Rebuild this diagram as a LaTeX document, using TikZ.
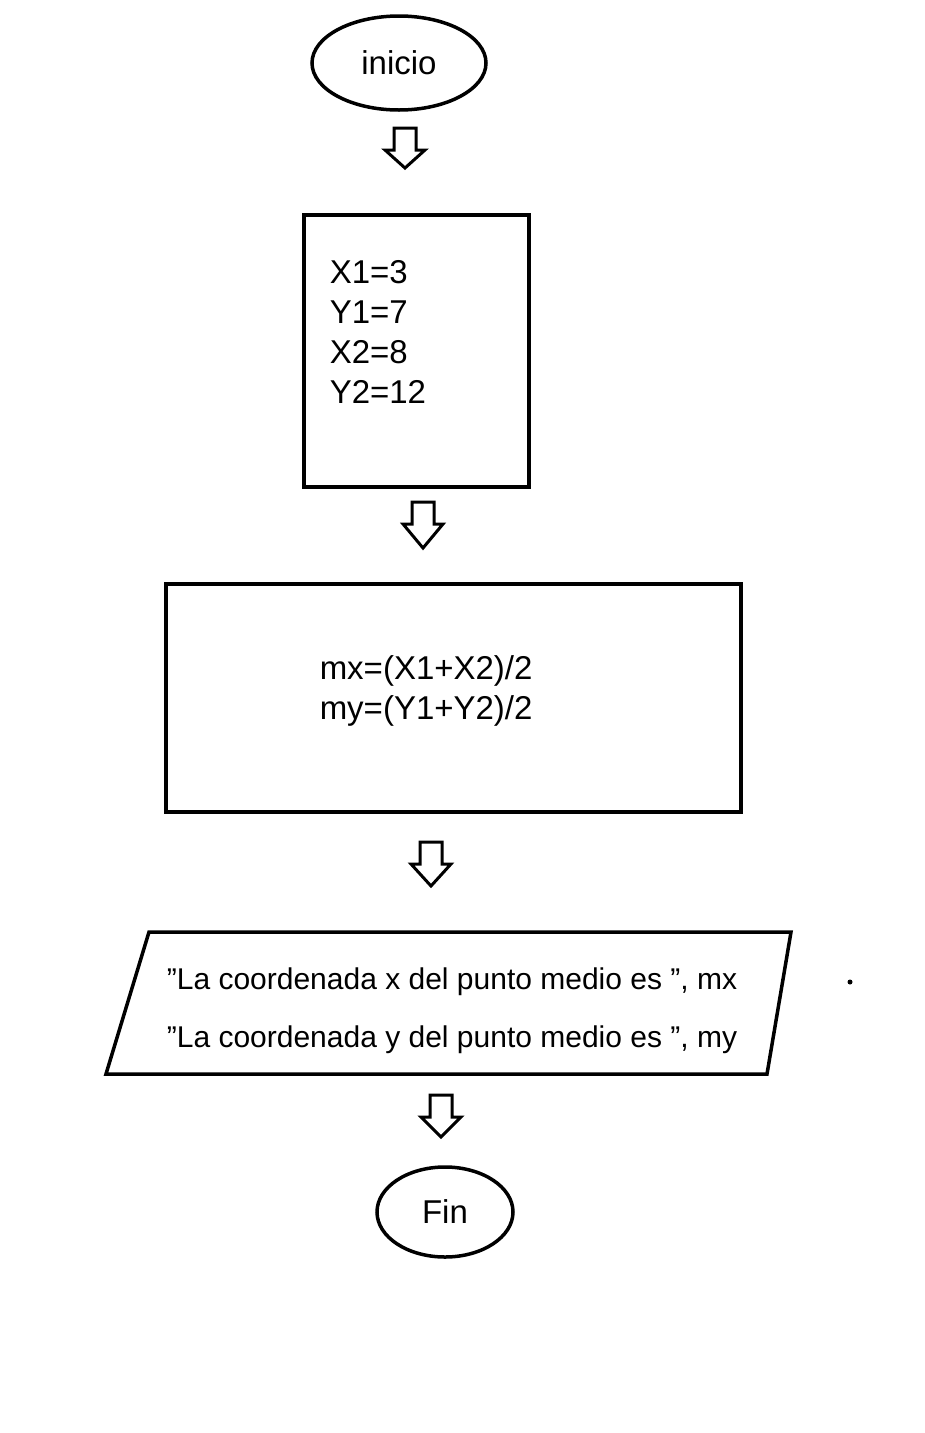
\documentclass[tikz,border=0pt]{standalone}
\usepackage{fontspec}
\setmainfont{Liberation Sans}
\usetikzlibrary{shapes.geometric}
\begin{document}
\begin{tikzpicture}[x=1pt,y=-1pt,line width=3.5pt,
  lbl/.style={font=\fontsize{33}{40}\selectfont,inner sep=0pt},
  blk/.style={line width=3pt,line join=miter}]
\useasboundingbox (0,0) rectangle (925,1433);
\newcommand{\blockarrow}[4]{% name, cx, top, bottom
  \draw[blk] (#2-11,#3) -- (#2+11,#3) -- (#2+11,#3+22) -- (#2+20,#3+22) -- (#2,#4) -- (#2-20,#3+22) -- (#2-11,#3+22) -- cycle;
  \coordinate (#1) at (#2,#3);}
\node[draw,ellipse,minimum width=174,minimum height=94,lbl] (ini) at (399,63) {inicio};
\blockarrow{a1}{405}{128}{168}
\draw (304,215) rectangle (529,487);
\node[lbl,anchor=west,align=left] (r1) at (328,332) {X1=3\\Y1=7\\X2=8\\Y2=12};
\blockarrow{a2}{423}{502}{548}
\draw (166,584) rectangle (741,812);
\node[lbl,anchor=west,align=left] (r2) at (318,691) {mx=(X1+X2)/2\\my=(Y1+Y2)/2};
\blockarrow{a3}{431}{842}{886}
\draw (149,932) -- (791,932) -- (767,1074) -- (106,1074) -- cycle;
\node[lbl,font=\fontsize{30}{58}\selectfont,align=center] (out) at (452,1011) {"La coordenada x del punto medio es ", mx\\"La coordenada y del punto medio es ", my};
\fill (850,982) circle (2.5);
\blockarrow{a4}{441}{1095}{1137}
\node[draw,ellipse,minimum width=136,minimum height=90,lbl] (fin) at (445,1212) {Fin};
\end{tikzpicture}
\end{document}
